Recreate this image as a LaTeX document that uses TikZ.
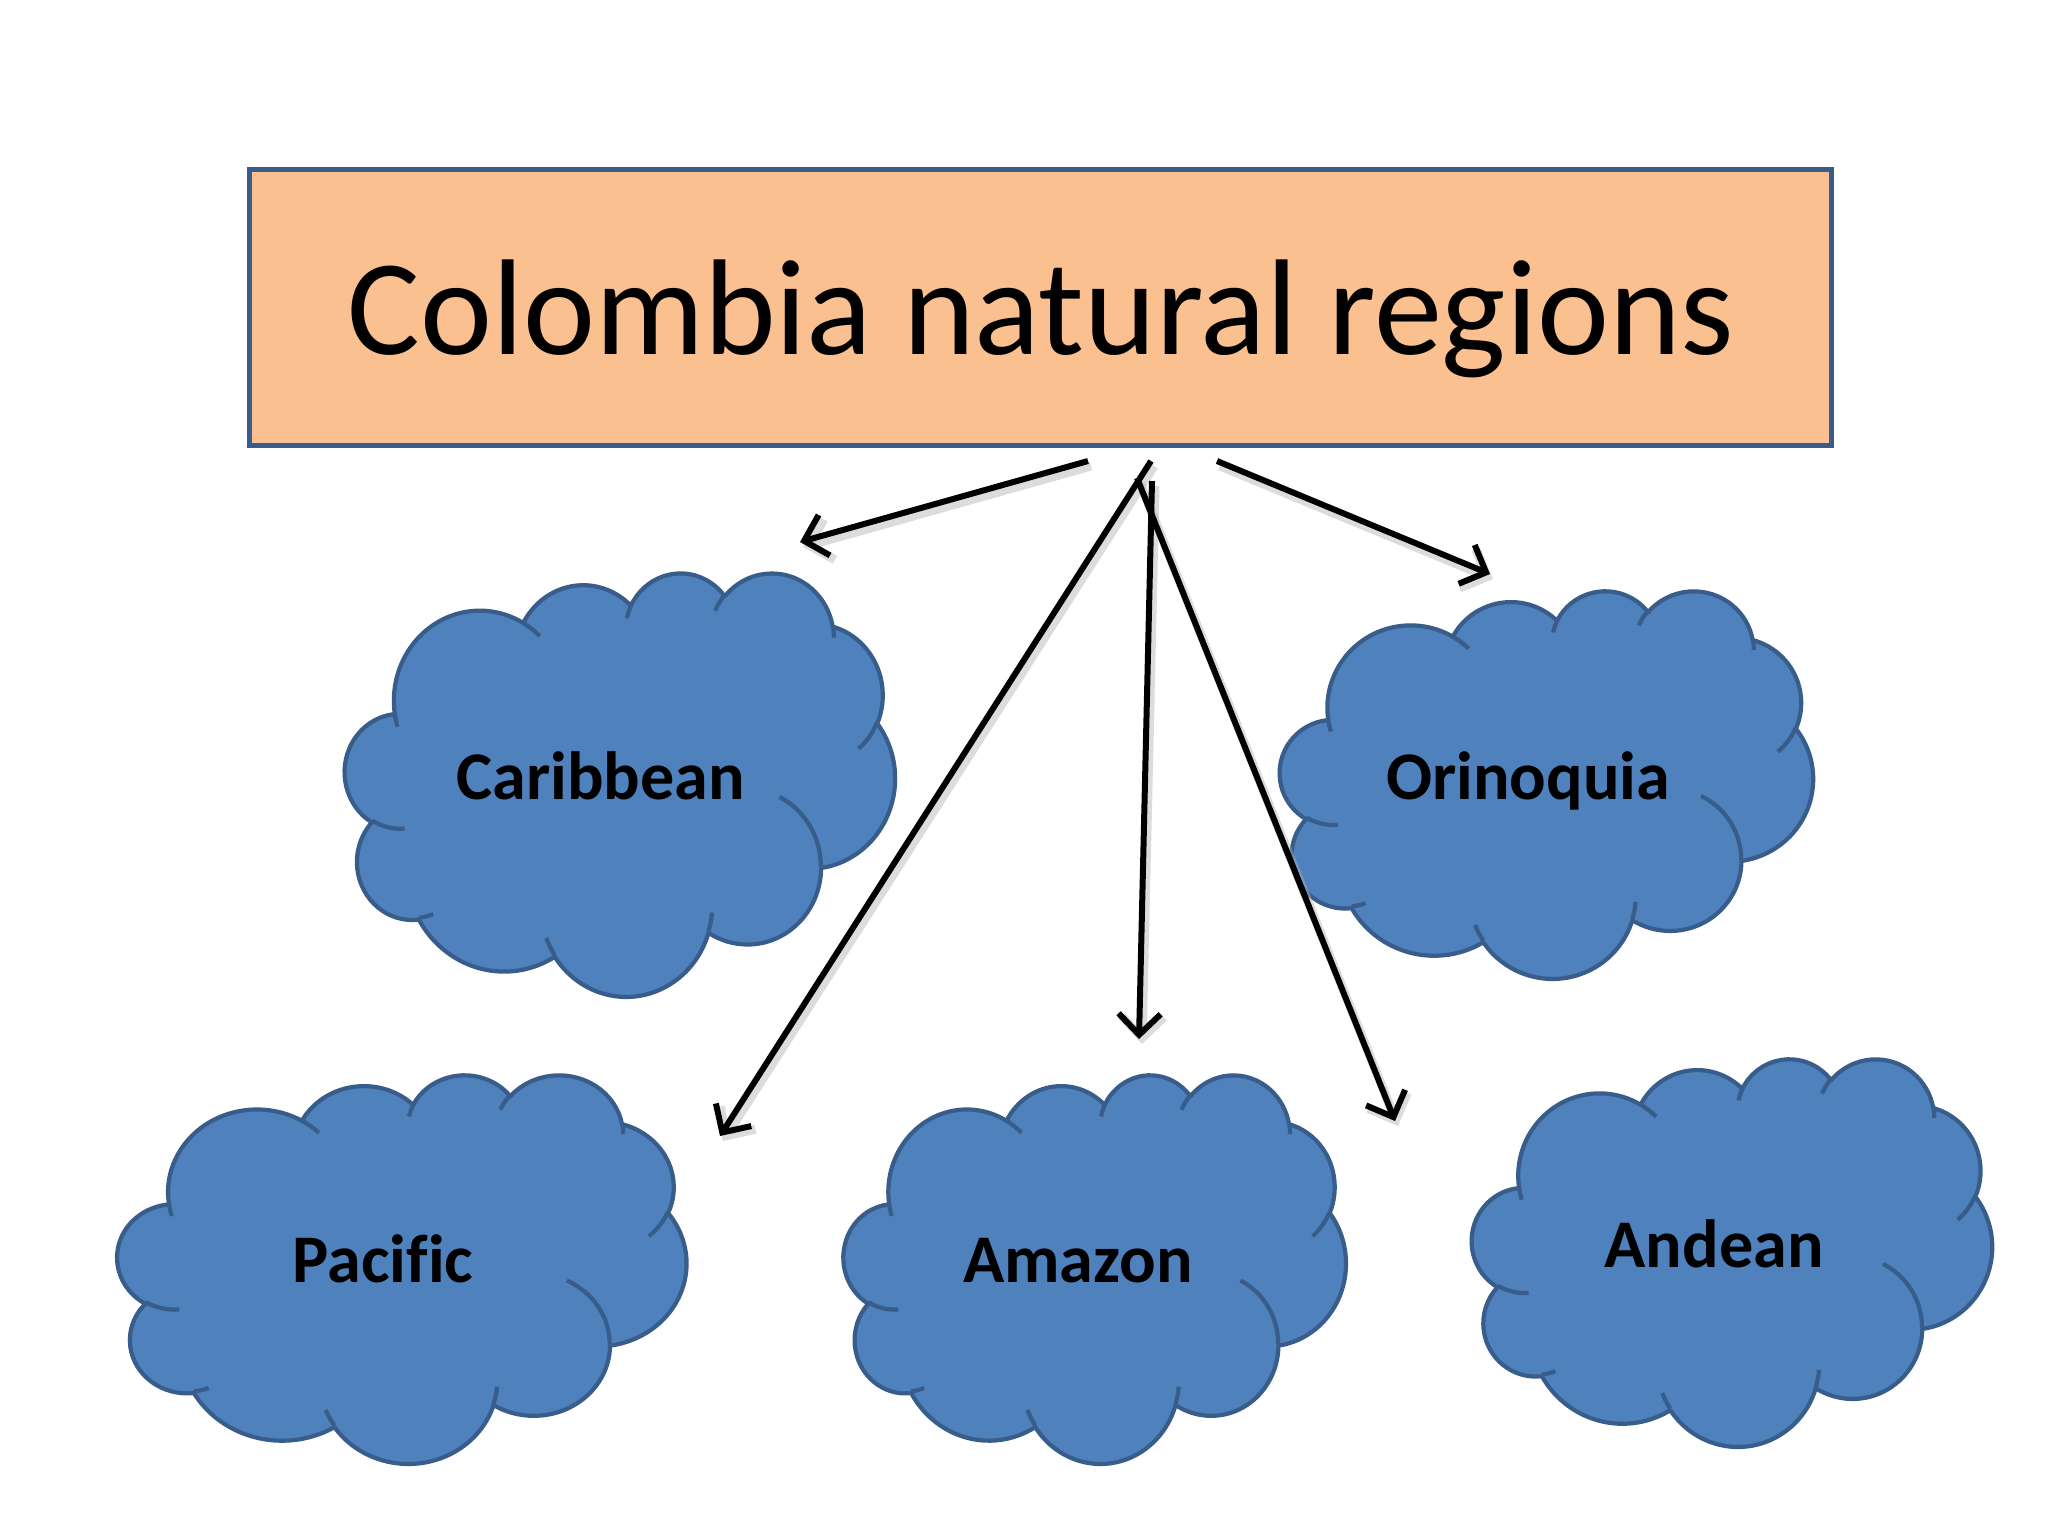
\documentclass[tikz,border=0pt]{standalone}
\usepackage{fontspec}
\setmainfont{Carlito}[Ligatures=NoCommon]
\usetikzlibrary{arrows.meta}
\definecolor{cfill}{HTML}{4F81BD}
\definecolor{cline}{HTML}{385D8A}
\definecolor{tfill}{HTML}{FAC090}
\tikzset{
  carc/.style n args={4}{insert path={arc[start angle={atan2((#1)*sin(#3),(#2)*cos(#3))}, delta angle={mod(atan2((#1)*sin((#3)+(#4)),(#2)*cos((#3)+(#4)))-atan2((#1)*sin(#3),(#2)*cos(#3))+720,360)}, x radius=#1pt, y radius=#2pt]}},
  cloudbody/.style={fill=cfill, draw=cline, line width=0.42mm, line join=round},
  cloudinner/.style={draw=cline, line width=0.42mm},
  titlebox/.style={draw=cline, fill=tfill, line width=0.5mm, minimum width=158.15mm, minimum height=27.56mm, inner sep=0},
  titletext/.style={font=\fontsize{38.8pt}{46pt}\selectfont, anchor=base, inner sep=0},
  lbl/.style={font=\fontsize{19.4pt}{23pt}\selectfont\bfseries, anchor=base, inner sep=0},
  arr/.style={draw=black, line width=0.6mm, -{Straight Barb[length=2.1mm,width=4.2mm]}},
  arrshadow/.style={draw=black!30, opacity=0.45, line width=0.9mm, -{Straight Barb[length=2.1mm,width=4.2mm]}, transform canvas={xshift=0.3mm,yshift=-0.5mm}}
}
\newcommand\regioncloud[4]{%
  \pgfmathsetmacro\cxs{#3*0.00065864}%
  \pgfmathsetmacro\cys{-#4*0.00065864}%
  \begin{scope}[shift={(#1,#2)}, xscale=\cxs, yscale=\cys]
    \path[cloudbody] (39.00pt,143.70pt)
      [carc={67.53}{91.90}{-190.4875}{123.7805}]
      [carc={53.33}{72.67}{-144.1024}{89.9452}]
      [carc={43.65}{59.45}{-145.8079}{99.7230}]
      [carc={48.57}{65.95}{-130.9861}{117.2417}]
      [carc={53.33}{72.73}{-78.7089}{109.0269}]
      [carc={67.75}{92.20}{-46.2673}{130.2690}]
      [carc={57.85}{78.67}{0.6250}{114.0333}]
      [carc={67.52}{92.15}{22.4516}{115.1726}]
      [carc={77.20}{105.43}{66.2426}{75.7110}]
      [carc={43.60}{59.18}{-274.9421}{146.7356}]
      [carc={43.45}{59.45}{-246.8285}{152.5189}] -- cycle;
    \path[cloudinner]
      (46.93pt,261.77pt) [carc={43.45}{59.45}{86.7420}{26.4295}]
      (69.28pt,348.99pt) [carc={43.60}{59.18}{73.6105}{11.4475}]
      (164.78pt,390.90pt) [carc={67.52}{92.15}{137.6242}{14.0811}]
      (288.27pt,347.51pt) [carc={67.52}{92.15}{6.4533}{15.9984}]
      (341.29pt,229.54pt) [carc={57.85}{78.67}{-70.2924}{70.9174}]
      (417.98pt,153.54pt) [carc={53.33}{72.73}{30.3180}{27.7515}]
      (383.24pt,54.26pt) [carc={48.57}{65.95}{-13.7443}{14.8589}]
      (290.78pt,39.52pt) [carc={48.57}{65.95}{-149.1815}{18.1954}]
      (221.41pt,47.20pt) [carc={43.65}{59.45}{-163.4943}{17.6864}]
      (140.00pt,51.92pt) [carc={67.53}{91.90}{-66.7070}{12.3194}]
      (41.27pt,157.89pt) [carc={67.53}{91.90}{157.6544}{11.8582}];
  \end{scope}}
\begin{document}
\begin{tikzpicture}[x=0.1mm,y=-0.1mm]
  \useasboundingbox[fill=white] (0,0) rectangle (2048,1536);
  % title
  \node[titlebox] (title) at (1040.25,307.6) {};
  \node[titletext] (titletext) at (1041,354) {Colombia natural regions};
  % clouds
  \regioncloud{345}{572}{552}{425}
  \regioncloud{1280}{590}{535}{389}
  \regioncloud{117.5}{1074}{571}{390}
  \regioncloud{843.7}{1074}{504}{390}
  \regioncloud{1472}{1058}{522}{389}
  \node[lbl] (carib) at (600.8,799) {Caribbean};
  \node[lbl] (orino) at (1528,799) {Orinoquia};
  \node[lbl] (pacif) at (383,1282.6) {Pacific};
  \node[lbl] (amaz) at (1078,1282.6) {Amazon};
  \node[lbl] (ande) at (1714,1267) {Andean};
  % arrows
  \coordinate (c1s) at (1088,461); \coordinate (c1e) at (800,542);
  \coordinate (c2s) at (1151,461); \coordinate (c2e) at (720,1136);
  \coordinate (c3s) at (1152,481); \coordinate (c3e) at (1139,1039);
  \coordinate (c4s) at (1137,478); \coordinate (c4e) at (1395,1121);
  \coordinate (c5s) at (1217,461); \coordinate (c5e) at (1490,574);
  \foreach \s/\e in {c1s/c1e,c2s/c2e,c3s/c3e,c4s/c4e,c5s/c5e}{
    \draw[arrshadow] (\s) -- (\e);
  }
  \foreach \s/\e in {c1s/c1e,c2s/c2e,c3s/c3e,c4s/c4e,c5s/c5e}{
    \draw[arr] (\s) -- (\e);
  }
\end{tikzpicture}
\end{document}
